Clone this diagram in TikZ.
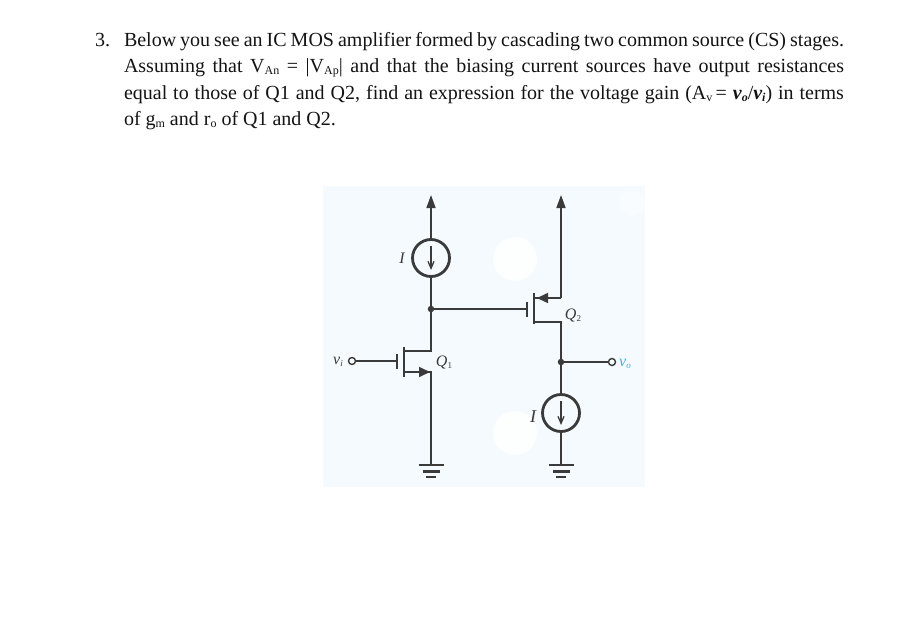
\documentclass[tikz,border=0pt]{standalone}
\usepackage{fontspec}
\setmainfont{Liberation Serif}
\usetikzlibrary{arrows.meta}
\definecolor{ink}{HTML}{141414}
\definecolor{wire}{HTML}{3A3A3A}
\definecolor{panel}{HTML}{F4FAFD}
\definecolor{voc}{HTML}{45AFD6}
\newcommand{\sbs}[1]{\raisebox{-2pt}{\fontsize{12}{12}\selectfont #1}}
\newcommand{\jline}[1]{\makebox[720pt][s]{#1}}
\tikzset{
  every node/.style={inner sep=0pt,outer sep=0pt},
  textline/.style={anchor=base west,text=ink,font=\fontsize{20}{24}\selectfont},
  lbl/.style={text=wire,font=\fontsize{16}{18}\selectfont\itshape},
  wireline/.style={draw=wire,line width=1.6pt},
  bar/.style={draw=wire,line width=2.8pt},
  src/.style={circle,draw=wire,line width=2.8pt,minimum size=37pt,fill=panel},
  term/.style={circle,draw=wire,line width=1.4pt,minimum size=7pt,fill=panel},
  dotn/.style={circle,fill=wire,minimum size=6.5pt},
  supply/.style={wireline,-{Triangle[length=13pt,width=9pt]}},
  inarrow/.style={draw=wire,line width=1.3pt,-{Straight Barb[length=7pt,width=6pt]}},
  mosarrow/.style={draw=wire,line width=1.6pt,-{Triangle[length=11pt,width=10pt]}},
  gbar/.style={draw=wire,line width=2.4pt}
}
\begin{document}
\begin{tikzpicture}[x=1pt,y=-1pt]
\useasboundingbox (0,0) rectangle (904,624);
\fill[white] (0,0) rectangle (904,624);
% question text
\node[textline] (num) at (95,46) {3.};
\node[textline] (l1) at (124,46) {\jline{Below you see an IC MOS amplifier formed by cascading two common source (CS) stages.}};
\node[textline] (l2) at (124,72.5) {\jline{Assuming that V\sbs{An} = |V\sbs{Ap}| and that the biasing current sources have output resistances}};
\node[textline] (l3) at (124,99) {\jline{equal to those of Q1 and Q2, find an expression for the voltage gain (A\sbs{v}\,= \textbf{\textit{v\sbs{o}}}/\textbf{\textit{v\sbs{i}}}) in terms}};
\node[textline] (l4) at (124,125) {of g\sbs{m} and r\sbs{o} of Q1 and Q2.};
% panel
\fill[panel] (323,186) rectangle (645,487);
\fill[white,opacity=.85] (515,259) circle (22);
\fill[white,opacity=.85] (515,433) circle (22);
\fill[white,opacity=.5] (632,203) circle (13);
% coordinates
\coordinate (vdd1) at (431,195);
\coordinate (vdd2) at (561,195);
\node[src] (I1) at (431,258) {};
\node[src] (I2) at (561,413) {};
\node[dotn] (n1) at (431,309) {};
\node[dotn] (n2) at (561,362) {};
\node[term] (vin) at (352,361) {};
\node[term] (vout) at (612,362) {};
% Q2
\coordinate (g2) at (527,309);
\coordinate (s2a) at (534,298);
\coordinate (s2) at (561,298);
\coordinate (d2a) at (534,322);
\coordinate (d2) at (561,322);
% Q1
\coordinate (g1) at (397,361);
\coordinate (d1a) at (404,351);
\coordinate (d1) at (431,351);
\coordinate (s1a) at (404,372);
\coordinate (s1) at (431,372);
\coordinate (gnd1) at (431,465);
\coordinate (gnd2) at (561,465);
% wires
\draw[supply] (I1) -- (vdd1);
\draw[wireline] (I1) -- (n1) -- (d1) -- (d1a);
\draw[wireline] (n1) -- (g2);
\draw[supply] (s2) -- (vdd2);
\draw[wireline] (s2) -- (s2a);
\draw[wireline] (d2a) -- (d2) -- (n2) -- (I2);
\draw[wireline] (I2) -- (gnd2);
\draw[wireline] (n2) -- (vout);
\draw[wireline] (vin) -- (g1);
\draw[wireline] (s1a) -- (s1) -- (gnd1);
% transistor bars
\draw[bar] (527,302) -- (527,317);
\draw[bar] (534,293) -- (534,324);
\draw[bar] (397,354) -- (397,369);
\draw[bar] (404,347) -- (404,377);
% source arrows
\draw[mosarrow] (551,298) -- (537,298);
\draw[mosarrow] (414,372) -- (430,372);
% current arrows
\draw[inarrow] (431,246) -- (431,270);
\draw[inarrow] (561,401) -- (561,425);
% grounds
\foreach \c in {431,561}{
  \draw[gbar] (\c-12.5,465) -- (\c+12.5,465);
  \draw[gbar] (\c-8.5,471.5) -- (\c+8.5,471.5);
  \draw[gbar] (\c-5,477) -- (\c+5,477);
}
% labels
\node[lbl] (lI1) at (402,258) {I};
\node[lbl,font=\fontsize{18}{18}\selectfont\itshape] (lI2) at (533,417) {I};
\node[lbl] (lvi) at (338,362) {v\raisebox{-2pt}{\fontsize{9}{9}\selectfont i}};
\node[lbl,text=voc] (lvo) at (625,364) {v\raisebox{-2pt}{\fontsize{9}{9}\selectfont o}};
\node[lbl] (lQ1) at (444,362) {Q\raisebox{-2pt}{\fontsize{9}{9}\selectfont\upshape 1}};
\node[lbl] (lQ2) at (573,315) {Q\raisebox{-2pt}{\fontsize{9}{9}\selectfont\upshape 2}};
\end{tikzpicture}
\end{document}
